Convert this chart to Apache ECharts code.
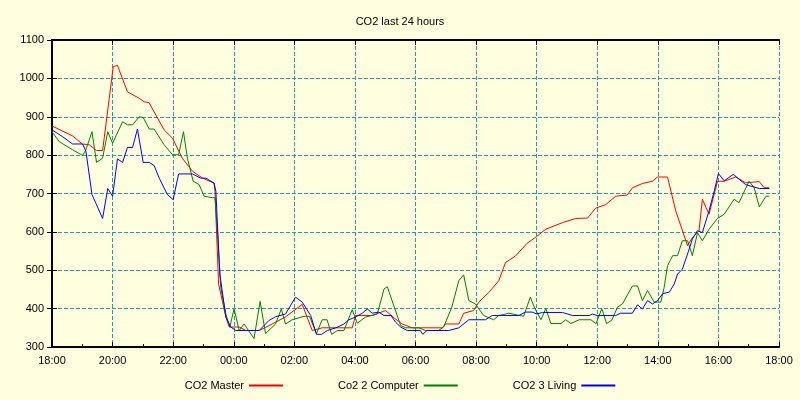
<!DOCTYPE html>
<html>
<head>
<meta charset="utf-8">
<script src="https://cdn.jsdelivr.net/npm/echarts@6/dist/echarts.min.js"></script>
<style>
  html, body { margin: 0; padding: 0; background: #ffffe0; }
  #chart { width: 800px; height: 400px; }
</style>
</head>
<body>
<div id="chart"></div>
<script>
// hours since 18:00, ppm
var tickLabels = ['18:00', '20:00', '22:00', '00:00', '02:00', '04:00', '06:00', '08:00', '10:00', '12:00', '14:00', '16:00', '18:00'];

var master = [
  [0, 876], [0.68, 850], [1.0, 829], [1.23, 827], [1.47, 812], [1.67, 812], [1.89, 948], [2.02, 1030], [2.16, 1034],
  [2.49, 965], [2.88, 948], [3.04, 939], [3.2, 937], [3.7, 866], [3.98, 844], [4.3, 792], [4.64, 758], [4.97, 740],
  [5.35, 727], [5.38, 706], [5.5, 464], [5.74, 378], [5.85, 352], [6.18, 352], [6.4, 343], [6.84, 343], [7.27, 360],
  [7.7, 378], [8.26, 411], [8.59, 343], [8.92, 350], [9.91, 350], [10.02, 382], [10.57, 382], [11.01, 395],
  [11.34, 373], [11.56, 360], [11.89, 350], [12.88, 350], [12.99, 360], [13.43, 360], [13.59, 388], [13.92, 395],
  [14.09, 417], [14.42, 442], [14.75, 473], [14.97, 520], [15.3, 537], [15.68, 570], [16.0, 588], [16.3, 607],
  [16.85, 624], [17.29, 635], [17.68, 636], [17.95, 662], [18.28, 671], [18.61, 693], [18.99, 696], [19.16, 715],
  [19.49, 726], [19.82, 732], [19.99, 743], [20.32, 743], [20.59, 655], [20.98, 564], [21.14, 585], [21.36, 603],
  [21.47, 685], [21.69, 646], [21.97, 732], [22.19, 732], [22.57, 743], [22.9, 728], [23.35, 731], [23.51, 715],
  [23.68, 715]
];

var computer = [
  [0, 861], [0.24, 835], [0.68, 814], [1.01, 799], [1.12, 814], [1.32, 861], [1.47, 781], [1.67, 792], [1.84, 861],
  [2.0, 831], [2.33, 887], [2.49, 879], [2.66, 879], [2.88, 900], [3.01, 898], [3.21, 868], [3.37, 868], [3.7, 827],
  [3.98, 801], [4.18, 801], [4.34, 861], [4.47, 792], [4.66, 732], [4.86, 723], [5.02, 693], [5.3, 689], [5.38, 689],
  [5.46, 602], [5.57, 455], [5.74, 386], [5.87, 352], [6.01, 399], [6.18, 343], [6.34, 360], [6.67, 322], [6.87, 419],
  [7.05, 335], [7.38, 360], [7.57, 399], [7.71, 360], [7.93, 371], [8.32, 380], [8.5, 380], [8.73, 335], [8.92, 371],
  [9.08, 371], [9.23, 333], [9.42, 343], [9.64, 343], [9.91, 397], [10.08, 362], [10.35, 378], [10.74, 386],
  [10.96, 451], [11.07, 457], [11.3, 404], [11.51, 356], [11.68, 350], [12.11, 350], [12.33, 343], [12.76, 343],
  [12.93, 352], [13.2, 404], [13.43, 473], [13.59, 488], [13.76, 421], [13.98, 412], [14.25, 382], [14.58, 371],
  [14.75, 382], [15.08, 388], [15.57, 380], [15.79, 430], [15.92, 404], [16.14, 371], [16.3, 400], [16.47, 361],
  [16.8, 361], [16.96, 371], [17.13, 361], [17.4, 371], [17.79, 371], [17.96, 361], [18.15, 400], [18.31, 361],
  [18.48, 370], [18.67, 404], [18.83, 412], [19.16, 459], [19.33, 459], [19.49, 421], [19.66, 447], [19.88, 417],
  [20.1, 417], [20.21, 456], [20.32, 512], [20.49, 538], [20.65, 538], [20.81, 577], [20.98, 577], [21.14, 538],
  [21.31, 598], [21.47, 577], [21.69, 607], [21.97, 635], [22.19, 646], [22.52, 685], [22.68, 676], [23.01, 732],
  [23.18, 715], [23.35, 665], [23.57, 693], [23.68, 693]
];

var living = [
  [0, 866], [0.35, 848], [0.68, 829], [1.01, 829], [1.12, 810], [1.32, 697], [1.47, 671], [1.67, 635], [1.84, 713],
  [2.0, 693], [2.16, 790], [2.33, 781], [2.49, 820], [2.66, 820], [2.82, 868], [3.01, 781], [3.21, 781], [3.37, 773],
  [3.54, 740], [3.81, 697], [4.0, 684], [4.18, 751], [4.64, 751], [4.91, 740], [5.08, 740], [5.35, 727], [5.41, 706],
  [5.54, 490], [5.74, 378], [5.9, 352], [6.07, 343], [6.4, 343], [6.84, 343], [7.16, 369], [7.38, 379], [7.71, 386],
  [8.04, 430], [8.26, 417], [8.54, 382], [8.73, 333], [8.9, 333], [9.09, 343], [9.37, 350], [9.64, 360], [9.8, 371],
  [10.02, 378], [10.24, 388], [10.41, 399], [10.57, 388], [10.79, 391], [10.96, 382], [11.19, 382], [11.34, 365],
  [11.51, 352], [11.73, 343], [12.16, 343], [12.24, 333], [12.38, 343], [13.1, 343], [13.43, 350], [13.76, 371],
  [14.31, 371], [14.53, 382], [15.41, 382], [15.63, 391], [15.85, 391], [16.0, 386], [16.19, 390], [16.85, 390],
  [17.18, 382], [17.73, 382], [17.84, 386], [18.0, 382], [18.61, 382], [18.77, 388], [19.16, 388], [19.33, 410],
  [19.49, 399], [19.66, 421], [19.82, 412], [19.99, 421], [20.16, 439], [20.38, 443], [20.54, 464], [20.65, 490],
  [20.81, 503], [20.98, 542], [21.14, 581], [21.31, 603], [21.47, 598], [21.69, 655], [21.86, 706], [22.0, 752],
  [22.19, 733], [22.49, 750], [22.9, 723], [23.35, 713], [23.68, 713]
];

var myChart = echarts.init(document.getElementById('chart'));
var font = 'Liberation Sans, Arial, sans-serif';

var option = {
  backgroundColor: '#ffffe0',
  animation: false,
  title: {
    text: 'CO2 last 24 hours',
    left: 'center',
    top: 11,
    textStyle: { fontSize: 11, fontWeight: 'normal', color: '#000', fontFamily: font }
  },
  legend: {
    bottom: 4,
    left: 'center',
    itemGap: 55,
    itemWidth: 34,
    itemHeight: 2,
    align: 'right',
    icon: 'rect',
    textStyle: { fontSize: 11, color: '#000', fontFamily: font },
    data: ['CO2 Master', 'Co2 2 Computer', 'CO2 3 Living']
  },
  grid: { left: 52, right: 21, top: 40, bottom: 53 },
  xAxis: [{
    type: 'value',
    min: 0,
    max: 24,
    interval: 2,
    axisLine: { lineStyle: { color: '#000', width: 2 } },
    axisTick: { inside: true, length: 5, lineStyle: { color: '#000' } },
    minorTick: { show: true, splitNumber: 2, length: 3, lineStyle: { color: '#000' } },
    axisLabel: {
      fontSize: 11, color: '#000', fontFamily: font, margin: 8,
      formatter: function (v) { return tickLabels[Math.round(v / 2)]; }
    },
    splitLine: { show: true, lineStyle: { color: '#2a9d9d', type: 'dashed' } }
  }, {
    // frame line on top
    type: 'value', position: 'top', min: 0, max: 24, interval: 2,
    axisLine: { show: true, lineStyle: { color: '#000', width: 2 } },
    axisTick: { show: true, inside: true, length: 5, lineStyle: { color: '#000' } },
    axisLabel: { show: false }, splitLine: { show: false }
  }],
  yAxis: [{
    type: 'value',
    min: 300,
    max: 1100,
    interval: 100,
    axisLine: { show: true, lineStyle: { color: '#000', width: 2 } },
    axisTick: { show: true, inside: true, length: 5, lineStyle: { color: '#000' } },
    axisLabel: {
      fontSize: 11, color: '#000', fontFamily: font, margin: 8,
      formatter: function (v) { return String(v); }
    },
    splitLine: { show: true, lineStyle: { color: '#2a9d9d', type: 'dashed' } }
  }, {
    // frame line on the right
    type: 'value', position: 'right', min: 300, max: 1100, interval: 100,
    axisLine: { show: true, lineStyle: { color: '#000', width: 2 } },
    axisTick: { show: true, inside: true, length: 5, lineStyle: { color: '#000' } },
    axisLabel: { show: false }, splitLine: { show: false }
  }],
  series: [
    { name: 'CO2 Master', type: 'line', data: master, symbol: 'none', color: '#ff0000', lineStyle: { width: 1 } },
    { name: 'Co2 2 Computer', type: 'line', data: computer, symbol: 'none', color: '#008000', lineStyle: { width: 1 } },
    { name: 'CO2 3 Living', type: 'line', data: living, symbol: 'none', color: '#0000ff', lineStyle: { width: 1 } }
  ]
};
myChart.setOption(option);
</script>
</body>
</html>
